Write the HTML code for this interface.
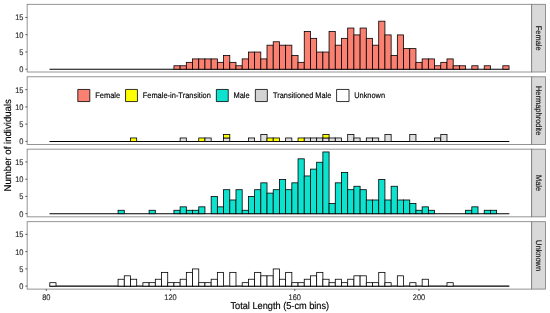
<!DOCTYPE html>
<html lang="en"><head><meta charset="utf-8"><title>Length frequency by sex</title>
<style>html,body{margin:0;padding:0;background:#fff}body{width:550px;height:313px;overflow:hidden}</style></head>
<body>
<svg width="550" height="313" viewBox="0 0 550 313" text-rendering="geometricPrecision" style="display:block;font-family:'Liberation Sans',Arial,sans-serif">
<rect width="550" height="313" fill="#fff"/>
<g stroke="#000" stroke-width="0.8"><line x1="49.50" y1="69.20" x2="509.35" y2="69.20" stroke-width="1.05"/><rect x="173.92" y="65.77" width="6.21" height="3.43" fill="#FA8072"/><rect x="180.13" y="65.77" width="6.21" height="3.43" fill="#FA8072"/><rect x="186.34" y="62.34" width="6.21" height="6.86" fill="#FA8072"/><rect x="192.54" y="58.91" width="6.21" height="10.29" fill="#FA8072"/><rect x="198.75" y="58.91" width="6.21" height="10.29" fill="#FA8072"/><rect x="204.95" y="58.91" width="6.21" height="10.29" fill="#FA8072"/><rect x="211.16" y="58.91" width="6.21" height="10.29" fill="#FA8072"/><rect x="217.37" y="62.34" width="6.21" height="6.86" fill="#FA8072"/><rect x="223.57" y="55.48" width="6.21" height="13.72" fill="#FA8072"/><rect x="229.78" y="62.34" width="6.21" height="6.86" fill="#FA8072"/><rect x="235.98" y="65.77" width="6.21" height="3.43" fill="#FA8072"/><rect x="242.19" y="58.91" width="6.21" height="10.29" fill="#FA8072"/><rect x="248.40" y="52.05" width="6.21" height="17.15" fill="#FA8072"/><rect x="254.60" y="52.05" width="6.21" height="17.15" fill="#FA8072"/><rect x="260.81" y="58.91" width="6.21" height="10.29" fill="#FA8072"/><rect x="267.01" y="45.19" width="6.21" height="24.01" fill="#FA8072"/><rect x="273.22" y="41.76" width="6.21" height="27.44" fill="#FA8072"/><rect x="279.43" y="45.19" width="6.21" height="24.01" fill="#FA8072"/><rect x="285.63" y="45.19" width="6.21" height="24.01" fill="#FA8072"/><rect x="291.84" y="55.48" width="6.21" height="13.72" fill="#FA8072"/><rect x="298.04" y="62.34" width="6.21" height="6.86" fill="#FA8072"/><rect x="304.25" y="31.47" width="6.21" height="37.73" fill="#FA8072"/><rect x="310.45" y="38.33" width="6.21" height="30.87" fill="#FA8072"/><rect x="316.66" y="52.05" width="6.21" height="17.15" fill="#FA8072"/><rect x="322.87" y="52.05" width="6.21" height="17.15" fill="#FA8072"/><rect x="329.07" y="31.47" width="6.21" height="37.73" fill="#FA8072"/><rect x="335.28" y="45.19" width="6.21" height="24.01" fill="#FA8072"/><rect x="341.49" y="38.33" width="6.21" height="30.87" fill="#FA8072"/><rect x="347.69" y="28.04" width="6.21" height="41.16" fill="#FA8072"/><rect x="353.90" y="34.90" width="6.21" height="34.30" fill="#FA8072"/><rect x="360.10" y="28.04" width="6.21" height="41.16" fill="#FA8072"/><rect x="366.31" y="38.33" width="6.21" height="30.87" fill="#FA8072"/><rect x="372.51" y="45.19" width="6.21" height="24.01" fill="#FA8072"/><rect x="378.72" y="21.18" width="6.21" height="48.02" fill="#FA8072"/><rect x="384.93" y="34.90" width="6.21" height="34.30" fill="#FA8072"/><rect x="391.13" y="55.48" width="6.21" height="13.72" fill="#FA8072"/><rect x="397.34" y="34.90" width="6.21" height="34.30" fill="#FA8072"/><rect x="403.55" y="48.62" width="6.21" height="20.58" fill="#FA8072"/><rect x="409.75" y="48.62" width="6.21" height="20.58" fill="#FA8072"/><rect x="415.96" y="62.34" width="6.21" height="6.86" fill="#FA8072"/><rect x="422.16" y="58.91" width="6.21" height="10.29" fill="#FA8072"/><rect x="428.37" y="58.91" width="6.21" height="10.29" fill="#FA8072"/><rect x="434.57" y="65.77" width="6.21" height="3.43" fill="#FA8072"/><rect x="440.78" y="62.34" width="6.21" height="6.86" fill="#FA8072"/><rect x="446.99" y="58.91" width="6.21" height="10.29" fill="#FA8072"/><rect x="453.19" y="65.77" width="6.21" height="3.43" fill="#FA8072"/><rect x="459.40" y="65.77" width="6.21" height="3.43" fill="#FA8072"/><rect x="471.81" y="65.77" width="6.21" height="3.43" fill="#FA8072"/><rect x="484.22" y="65.77" width="6.21" height="3.43" fill="#FA8072"/><rect x="502.84" y="65.77" width="6.21" height="3.43" fill="#FA8072"/></g>
<rect x="27.15" y="4.30" width="504.55" height="67.70" fill="none" stroke="#7a7a7a" stroke-width="0.8"/>
<rect x="531.70" y="4.30" width="13.80" height="67.70" fill="#D9D9D9" stroke="#7a7a7a" stroke-width="0.8"/>
<text transform="translate(536.10 38.15) rotate(90) scale(0.922 1)" text-anchor="middle" font-size="8.1" fill="#1a1a1a" stroke="#1a1a1a" stroke-width="0.16">Female</text>
<line x1="25.35" y1="69.20" x2="27.15" y2="69.20" stroke="#2a2a2a" stroke-width="0.75"/>
<text transform="translate(23.45 72.15) scale(0.922 1)" text-anchor="end" font-size="8.1" fill="#303030" stroke="#303030" stroke-width="0.16">0</text>
<line x1="25.35" y1="51.95" x2="27.15" y2="51.95" stroke="#2a2a2a" stroke-width="0.75"/>
<text transform="translate(23.45 54.90) scale(0.922 1)" text-anchor="end" font-size="8.1" fill="#303030" stroke="#303030" stroke-width="0.16">5</text>
<line x1="25.35" y1="34.70" x2="27.15" y2="34.70" stroke="#2a2a2a" stroke-width="0.75"/>
<text transform="translate(23.45 37.65) scale(0.922 1)" text-anchor="end" font-size="8.1" fill="#303030" stroke="#303030" stroke-width="0.16">10</text>
<line x1="25.35" y1="17.45" x2="27.15" y2="17.45" stroke="#2a2a2a" stroke-width="0.75"/>
<text transform="translate(23.45 20.40) scale(0.922 1)" text-anchor="end" font-size="8.1" fill="#303030" stroke="#303030" stroke-width="0.16">15</text>
<g stroke="#000" stroke-width="0.8"><line x1="49.50" y1="141.40" x2="509.35" y2="141.40" stroke-width="1.05"/><rect x="130.48" y="137.97" width="6.21" height="3.43" fill="#FFFF00"/><rect x="180.13" y="137.97" width="6.21" height="3.43" fill="#E0E0E0"/><rect x="198.75" y="137.97" width="6.21" height="3.43" fill="#FFFF00"/><rect x="204.95" y="137.97" width="6.21" height="3.43" fill="#E0E0E0"/><rect x="223.57" y="137.97" width="6.21" height="3.43" fill="#E0E0E0"/><rect x="223.57" y="134.54" width="6.21" height="3.43" fill="#FFFF00"/><rect x="248.40" y="137.97" width="6.21" height="3.43" fill="#E0E0E0"/><rect x="260.81" y="134.54" width="6.21" height="6.86" fill="#E0E0E0"/><rect x="267.01" y="137.97" width="6.21" height="3.43" fill="#FFFF00"/><rect x="273.22" y="137.97" width="6.21" height="3.43" fill="#FFFF00"/><rect x="285.63" y="137.97" width="6.21" height="3.43" fill="#E0E0E0"/><rect x="298.04" y="137.97" width="6.21" height="3.43" fill="#FFFF00"/><rect x="304.25" y="137.97" width="6.21" height="3.43" fill="#E0E0E0"/><rect x="310.45" y="137.97" width="6.21" height="3.43" fill="#E0E0E0"/><rect x="316.66" y="137.97" width="6.21" height="3.43" fill="#E0E0E0"/><rect x="322.87" y="137.97" width="6.21" height="3.43" fill="#E0E0E0"/><rect x="322.87" y="134.54" width="6.21" height="3.43" fill="#FFFF00"/><rect x="329.07" y="137.97" width="6.21" height="3.43" fill="#E0E0E0"/><rect x="335.28" y="137.97" width="6.21" height="3.43" fill="#E0E0E0"/><rect x="347.69" y="134.54" width="6.21" height="6.86" fill="#E0E0E0"/><rect x="353.90" y="137.97" width="6.21" height="3.43" fill="#E0E0E0"/><rect x="366.31" y="137.97" width="6.21" height="3.43" fill="#E0E0E0"/><rect x="372.51" y="137.97" width="6.21" height="3.43" fill="#E0E0E0"/><rect x="384.93" y="134.54" width="6.21" height="6.86" fill="#E0E0E0"/><rect x="409.75" y="134.54" width="6.21" height="6.86" fill="#E0E0E0"/><rect x="434.57" y="137.97" width="6.21" height="3.43" fill="#E0E0E0"/><rect x="440.78" y="134.54" width="6.21" height="6.86" fill="#E0E0E0"/></g>
<rect x="27.15" y="76.80" width="504.55" height="67.70" fill="none" stroke="#7a7a7a" stroke-width="0.8"/>
<rect x="531.70" y="76.80" width="13.80" height="67.70" fill="#D9D9D9" stroke="#7a7a7a" stroke-width="0.8"/>
<text transform="translate(536.10 110.65) rotate(90) scale(0.922 1)" text-anchor="middle" font-size="8.1" fill="#1a1a1a" stroke="#1a1a1a" stroke-width="0.16">Hermaphrodite</text>
<line x1="25.35" y1="141.40" x2="27.15" y2="141.40" stroke="#2a2a2a" stroke-width="0.75"/>
<text transform="translate(23.45 144.35) scale(0.922 1)" text-anchor="end" font-size="8.1" fill="#303030" stroke="#303030" stroke-width="0.16">0</text>
<line x1="25.35" y1="124.15" x2="27.15" y2="124.15" stroke="#2a2a2a" stroke-width="0.75"/>
<text transform="translate(23.45 127.10) scale(0.922 1)" text-anchor="end" font-size="8.1" fill="#303030" stroke="#303030" stroke-width="0.16">5</text>
<line x1="25.35" y1="106.90" x2="27.15" y2="106.90" stroke="#2a2a2a" stroke-width="0.75"/>
<text transform="translate(23.45 109.85) scale(0.922 1)" text-anchor="end" font-size="8.1" fill="#303030" stroke="#303030" stroke-width="0.16">10</text>
<line x1="25.35" y1="89.65" x2="27.15" y2="89.65" stroke="#2a2a2a" stroke-width="0.75"/>
<text transform="translate(23.45 92.60) scale(0.922 1)" text-anchor="end" font-size="8.1" fill="#303030" stroke="#303030" stroke-width="0.16">15</text>
<g stroke="#000" stroke-width="0.8"><line x1="49.50" y1="213.70" x2="509.35" y2="213.70" stroke-width="1.05"/><rect x="118.07" y="210.27" width="6.21" height="3.43" fill="#0CE2CE"/><rect x="149.10" y="210.27" width="6.21" height="3.43" fill="#0CE2CE"/><rect x="173.92" y="210.27" width="6.21" height="3.43" fill="#0CE2CE"/><rect x="180.13" y="206.84" width="6.21" height="6.86" fill="#0CE2CE"/><rect x="186.34" y="210.27" width="6.21" height="3.43" fill="#0CE2CE"/><rect x="192.54" y="210.27" width="6.21" height="3.43" fill="#0CE2CE"/><rect x="198.75" y="206.84" width="6.21" height="6.86" fill="#0CE2CE"/><rect x="211.16" y="196.55" width="6.21" height="17.15" fill="#0CE2CE"/><rect x="217.37" y="206.84" width="6.21" height="6.86" fill="#0CE2CE"/><rect x="223.57" y="189.69" width="6.21" height="24.01" fill="#0CE2CE"/><rect x="229.78" y="199.98" width="6.21" height="13.72" fill="#0CE2CE"/><rect x="235.98" y="189.69" width="6.21" height="24.01" fill="#0CE2CE"/><rect x="242.19" y="210.27" width="6.21" height="3.43" fill="#0CE2CE"/><rect x="248.40" y="196.55" width="6.21" height="17.15" fill="#0CE2CE"/><rect x="254.60" y="189.69" width="6.21" height="24.01" fill="#0CE2CE"/><rect x="260.81" y="182.83" width="6.21" height="30.87" fill="#0CE2CE"/><rect x="267.01" y="193.12" width="6.21" height="20.58" fill="#0CE2CE"/><rect x="273.22" y="189.69" width="6.21" height="24.01" fill="#0CE2CE"/><rect x="279.43" y="179.40" width="6.21" height="34.30" fill="#0CE2CE"/><rect x="285.63" y="189.69" width="6.21" height="24.01" fill="#0CE2CE"/><rect x="291.84" y="182.83" width="6.21" height="30.87" fill="#0CE2CE"/><rect x="298.04" y="158.82" width="6.21" height="54.88" fill="#0CE2CE"/><rect x="304.25" y="175.97" width="6.21" height="37.73" fill="#0CE2CE"/><rect x="310.45" y="169.11" width="6.21" height="44.59" fill="#0CE2CE"/><rect x="316.66" y="162.25" width="6.21" height="51.45" fill="#0CE2CE"/><rect x="322.87" y="151.96" width="6.21" height="61.74" fill="#0CE2CE"/><rect x="329.07" y="203.41" width="6.21" height="10.29" fill="#0CE2CE"/><rect x="335.28" y="182.83" width="6.21" height="30.87" fill="#0CE2CE"/><rect x="341.49" y="172.54" width="6.21" height="41.16" fill="#0CE2CE"/><rect x="347.69" y="189.69" width="6.21" height="24.01" fill="#0CE2CE"/><rect x="353.90" y="186.26" width="6.21" height="27.44" fill="#0CE2CE"/><rect x="360.10" y="189.69" width="6.21" height="24.01" fill="#0CE2CE"/><rect x="366.31" y="199.98" width="6.21" height="13.72" fill="#0CE2CE"/><rect x="372.51" y="199.98" width="6.21" height="13.72" fill="#0CE2CE"/><rect x="378.72" y="179.40" width="6.21" height="34.30" fill="#0CE2CE"/><rect x="384.93" y="199.98" width="6.21" height="13.72" fill="#0CE2CE"/><rect x="391.13" y="186.26" width="6.21" height="27.44" fill="#0CE2CE"/><rect x="397.34" y="199.98" width="6.21" height="13.72" fill="#0CE2CE"/><rect x="403.55" y="199.98" width="6.21" height="13.72" fill="#0CE2CE"/><rect x="409.75" y="203.41" width="6.21" height="10.29" fill="#0CE2CE"/><rect x="415.96" y="210.27" width="6.21" height="3.43" fill="#0CE2CE"/><rect x="422.16" y="206.84" width="6.21" height="6.86" fill="#0CE2CE"/><rect x="428.37" y="210.27" width="6.21" height="3.43" fill="#0CE2CE"/><rect x="465.61" y="210.27" width="6.21" height="3.43" fill="#0CE2CE"/><rect x="471.81" y="206.84" width="6.21" height="6.86" fill="#0CE2CE"/><rect x="484.22" y="210.27" width="6.21" height="3.43" fill="#0CE2CE"/><rect x="490.43" y="210.27" width="6.21" height="3.43" fill="#0CE2CE"/></g>
<rect x="27.15" y="149.15" width="504.55" height="67.70" fill="none" stroke="#7a7a7a" stroke-width="0.8"/>
<rect x="531.70" y="149.15" width="13.80" height="67.70" fill="#D9D9D9" stroke="#7a7a7a" stroke-width="0.8"/>
<text transform="translate(536.10 183.00) rotate(90) scale(0.922 1)" text-anchor="middle" font-size="8.1" fill="#1a1a1a" stroke="#1a1a1a" stroke-width="0.16">Male</text>
<line x1="25.35" y1="213.70" x2="27.15" y2="213.70" stroke="#2a2a2a" stroke-width="0.75"/>
<text transform="translate(23.45 216.65) scale(0.922 1)" text-anchor="end" font-size="8.1" fill="#303030" stroke="#303030" stroke-width="0.16">0</text>
<line x1="25.35" y1="196.45" x2="27.15" y2="196.45" stroke="#2a2a2a" stroke-width="0.75"/>
<text transform="translate(23.45 199.40) scale(0.922 1)" text-anchor="end" font-size="8.1" fill="#303030" stroke="#303030" stroke-width="0.16">5</text>
<line x1="25.35" y1="179.20" x2="27.15" y2="179.20" stroke="#2a2a2a" stroke-width="0.75"/>
<text transform="translate(23.45 182.15) scale(0.922 1)" text-anchor="end" font-size="8.1" fill="#303030" stroke="#303030" stroke-width="0.16">10</text>
<line x1="25.35" y1="161.95" x2="27.15" y2="161.95" stroke="#2a2a2a" stroke-width="0.75"/>
<text transform="translate(23.45 164.90) scale(0.922 1)" text-anchor="end" font-size="8.1" fill="#303030" stroke="#303030" stroke-width="0.16">15</text>
<g stroke="#000" stroke-width="0.8"><line x1="49.50" y1="286.10" x2="509.35" y2="286.10" stroke-width="1.05"/><rect x="49.80" y="282.67" width="6.21" height="3.43" fill="#FFFFFF"/><rect x="118.07" y="279.24" width="6.21" height="6.86" fill="#FFFFFF"/><rect x="124.28" y="275.81" width="6.21" height="10.29" fill="#FFFFFF"/><rect x="130.48" y="279.24" width="6.21" height="6.86" fill="#FFFFFF"/><rect x="142.89" y="282.67" width="6.21" height="3.43" fill="#FFFFFF"/><rect x="149.10" y="282.67" width="6.21" height="3.43" fill="#FFFFFF"/><rect x="155.31" y="279.24" width="6.21" height="6.86" fill="#FFFFFF"/><rect x="161.51" y="272.38" width="6.21" height="13.72" fill="#FFFFFF"/><rect x="167.72" y="282.67" width="6.21" height="3.43" fill="#FFFFFF"/><rect x="173.92" y="282.67" width="6.21" height="3.43" fill="#FFFFFF"/><rect x="180.13" y="279.24" width="6.21" height="6.86" fill="#FFFFFF"/><rect x="186.34" y="272.38" width="6.21" height="13.72" fill="#FFFFFF"/><rect x="192.54" y="268.95" width="6.21" height="17.15" fill="#FFFFFF"/><rect x="198.75" y="282.67" width="6.21" height="3.43" fill="#FFFFFF"/><rect x="204.95" y="282.67" width="6.21" height="3.43" fill="#FFFFFF"/><rect x="211.16" y="279.24" width="6.21" height="6.86" fill="#FFFFFF"/><rect x="217.37" y="272.38" width="6.21" height="13.72" fill="#FFFFFF"/><rect x="229.78" y="272.38" width="6.21" height="13.72" fill="#FFFFFF"/><rect x="242.19" y="282.67" width="6.21" height="3.43" fill="#FFFFFF"/><rect x="248.40" y="279.24" width="6.21" height="6.86" fill="#FFFFFF"/><rect x="254.60" y="272.38" width="6.21" height="13.72" fill="#FFFFFF"/><rect x="260.81" y="275.81" width="6.21" height="10.29" fill="#FFFFFF"/><rect x="267.01" y="275.81" width="6.21" height="10.29" fill="#FFFFFF"/><rect x="273.22" y="268.95" width="6.21" height="17.15" fill="#FFFFFF"/><rect x="279.43" y="279.24" width="6.21" height="6.86" fill="#FFFFFF"/><rect x="285.63" y="272.38" width="6.21" height="13.72" fill="#FFFFFF"/><rect x="291.84" y="282.67" width="6.21" height="3.43" fill="#FFFFFF"/><rect x="298.04" y="282.67" width="6.21" height="3.43" fill="#FFFFFF"/><rect x="304.25" y="279.24" width="6.21" height="6.86" fill="#FFFFFF"/><rect x="310.45" y="275.81" width="6.21" height="10.29" fill="#FFFFFF"/><rect x="316.66" y="272.38" width="6.21" height="13.72" fill="#FFFFFF"/><rect x="322.87" y="279.24" width="6.21" height="6.86" fill="#FFFFFF"/><rect x="329.07" y="282.67" width="6.21" height="3.43" fill="#FFFFFF"/><rect x="335.28" y="279.24" width="6.21" height="6.86" fill="#FFFFFF"/><rect x="341.49" y="282.67" width="6.21" height="3.43" fill="#FFFFFF"/><rect x="347.69" y="279.24" width="6.21" height="6.86" fill="#FFFFFF"/><rect x="353.90" y="275.81" width="6.21" height="10.29" fill="#FFFFFF"/><rect x="360.10" y="275.81" width="6.21" height="10.29" fill="#FFFFFF"/><rect x="366.31" y="282.67" width="6.21" height="3.43" fill="#FFFFFF"/><rect x="372.51" y="282.67" width="6.21" height="3.43" fill="#FFFFFF"/><rect x="378.72" y="272.38" width="6.21" height="13.72" fill="#FFFFFF"/><rect x="384.93" y="282.67" width="6.21" height="3.43" fill="#FFFFFF"/><rect x="397.34" y="275.81" width="6.21" height="10.29" fill="#FFFFFF"/><rect x="409.75" y="282.67" width="6.21" height="3.43" fill="#FFFFFF"/><rect x="422.16" y="279.24" width="6.21" height="6.86" fill="#FFFFFF"/><rect x="446.99" y="282.67" width="6.21" height="3.43" fill="#FFFFFF"/></g>
<rect x="27.15" y="221.70" width="504.55" height="67.40" fill="none" stroke="#7a7a7a" stroke-width="0.8"/>
<rect x="531.70" y="221.70" width="13.80" height="67.40" fill="#D9D9D9" stroke="#7a7a7a" stroke-width="0.8"/>
<text transform="translate(536.10 255.55) rotate(90) scale(0.922 1)" text-anchor="middle" font-size="8.1" fill="#1a1a1a" stroke="#1a1a1a" stroke-width="0.16">Unknown</text>
<line x1="25.35" y1="286.10" x2="27.15" y2="286.10" stroke="#2a2a2a" stroke-width="0.75"/>
<text transform="translate(23.45 289.05) scale(0.922 1)" text-anchor="end" font-size="8.1" fill="#303030" stroke="#303030" stroke-width="0.16">0</text>
<line x1="25.35" y1="268.85" x2="27.15" y2="268.85" stroke="#2a2a2a" stroke-width="0.75"/>
<text transform="translate(23.45 271.80) scale(0.922 1)" text-anchor="end" font-size="8.1" fill="#303030" stroke="#303030" stroke-width="0.16">5</text>
<line x1="25.35" y1="251.60" x2="27.15" y2="251.60" stroke="#2a2a2a" stroke-width="0.75"/>
<text transform="translate(23.45 254.55) scale(0.922 1)" text-anchor="end" font-size="8.1" fill="#303030" stroke="#303030" stroke-width="0.16">10</text>
<line x1="25.35" y1="234.35" x2="27.15" y2="234.35" stroke="#2a2a2a" stroke-width="0.75"/>
<text transform="translate(23.45 237.30) scale(0.922 1)" text-anchor="end" font-size="8.1" fill="#303030" stroke="#303030" stroke-width="0.16">15</text>
<line x1="46.30" y1="289.10" x2="46.30" y2="290.90" stroke="#2a2a2a" stroke-width="0.75"/>
<text transform="translate(46.30 299.55) scale(0.922 1)" text-anchor="middle" font-size="8.1" fill="#303030" stroke="#303030" stroke-width="0.16">80</text>
<line x1="170.52" y1="289.10" x2="170.52" y2="290.90" stroke="#2a2a2a" stroke-width="0.75"/>
<text transform="translate(170.52 299.55) scale(0.922 1)" text-anchor="middle" font-size="8.1" fill="#303030" stroke="#303030" stroke-width="0.16">120</text>
<line x1="294.74" y1="289.10" x2="294.74" y2="290.90" stroke="#2a2a2a" stroke-width="0.75"/>
<text transform="translate(294.74 299.55) scale(0.922 1)" text-anchor="middle" font-size="8.1" fill="#303030" stroke="#303030" stroke-width="0.16">160</text>
<line x1="418.96" y1="289.10" x2="418.96" y2="290.90" stroke="#2a2a2a" stroke-width="0.75"/>
<text transform="translate(418.96 299.55) scale(0.922 1)" text-anchor="middle" font-size="8.1" fill="#303030" stroke="#303030" stroke-width="0.16">200</text>
<text transform="translate(279.80 309.00) scale(0.932 1)" text-anchor="middle" font-size="9.9" fill="#000" stroke="#000" stroke-width="0.16">Total Length (5-cm bins)</text>
<text transform="translate(10.50 145.30) rotate(-90) scale(0.972 1)" text-anchor="middle" font-size="9.9" fill="#000" stroke="#000" stroke-width="0.16">Number of individuals</text>
<rect x="77.80" y="89.45" width="12.00" height="12.1" fill="#FA8072" stroke="#000" stroke-width="0.8" stroke-linejoin="round"/>
<text transform="translate(95.25 98.30) scale(0.922 1)" text-anchor="start" font-size="8.1" fill="#000" stroke="#000" stroke-width="0.16">Female</text>
<rect x="125.55" y="89.45" width="11.90" height="12.1" fill="#FFFF00" stroke="#000" stroke-width="0.8" stroke-linejoin="round"/>
<text transform="translate(142.70 98.30) scale(0.922 1)" text-anchor="start" font-size="8.1" fill="#000" stroke="#000" stroke-width="0.16">Female-in-Transition</text>
<rect x="216.35" y="89.45" width="11.90" height="12.1" fill="#0CE2CE" stroke="#000" stroke-width="0.8" stroke-linejoin="round"/>
<text transform="translate(233.50 98.30) scale(0.922 1)" text-anchor="start" font-size="8.1" fill="#000" stroke="#000" stroke-width="0.16">Male</text>
<rect x="255.35" y="89.45" width="12.00" height="12.1" fill="#D3D3D3" stroke="#000" stroke-width="0.8" stroke-linejoin="round"/>
<text transform="translate(273.05 98.30) scale(0.909 1)" text-anchor="start" font-size="8.1" fill="#000" stroke="#000" stroke-width="0.16">Transitioned Male</text>
<rect x="336.60" y="89.45" width="12.40" height="12.1" fill="#FFFFFF" stroke="#000" stroke-width="0.8" stroke-linejoin="round"/>
<text transform="translate(354.20 98.30) scale(0.913 1)" text-anchor="start" font-size="8.1" fill="#000" stroke="#000" stroke-width="0.16">Unknown</text>
</svg>
</body></html>
